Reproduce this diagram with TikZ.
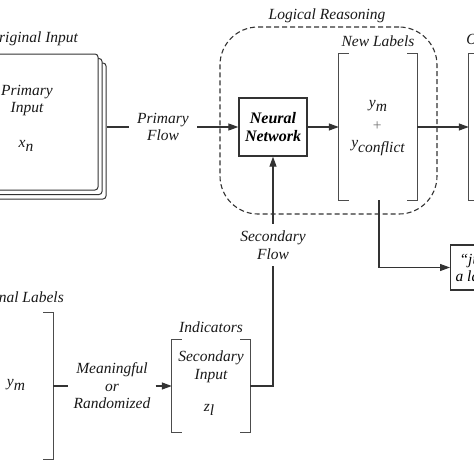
\documentclass[tikz,border=0pt]{standalone}
\usepackage{fontspec}
\setmainfont{Liberation Serif}
\usetikzlibrary{arrows.meta}
\newcommand\mysub[1]{\raisebox{-4.5pt}{#1}}
\begin{document}
\begin{tikzpicture}[x=1pt,y=-1pt,
  font=\fontsize{15.5}{17.5}\selectfont\itshape,
  ln/.style={draw=black!80, line width=1.2pt},
  arr/.style={ln,-{Triangle[length=10pt,width=7pt]}},
  lbl/.style={inner sep=0pt, align=center, text=black!90},
  brk/.style={draw=black!70, line width=1.3pt},
  stk/.style={draw=black!80, fill=white, line width=1pt, rounded corners=3pt,
    minimum width=142pt, minimum height=136pt, inner sep=0pt},
  frame/.style={inner sep=0pt, minimum width=#1},
  nnbox/.style={draw=black!80, line width=1.3pt, minimum width=68pt, minimum height=58pt,
    inner sep=0pt, align=center, font=\fontsize{16}{18}\selectfont\bfseries\itshape},
  gapped/.style={lbl, inner xsep=#1}
]
\useasboundingbox (0,0) rectangle (474,474);
\clip (0,0) rectangle (474,474);

% stacked original input
\node[stk] (in3) at (35,131) {};
\node[stk] (in2) at (31,126.5) {};
\node[stk] (in1) at (27,122) {};
\node[lbl] (oi) at (33,39) {Original Input};
\node[lbl] (pin) at (27,100.5) {Primary\\Input};
\node[lbl] (xn) at (26,146) {x\mysub{n}};

% primary flow
\node[gapped=8pt] (pf) at (163,127) {Primary\\Flow};
\draw[ln] (pf.west -| in3.east) -- (pf.west);

% logical reasoning
\node[draw=black!80, dashed, dash pattern=on 5pt off 3pt, line width=1.1pt, rounded corners=38pt,
  minimum width=217pt, minimum height=187pt, inner sep=0pt] (lr) at (328.5,120.5) {};
\node[lbl] (lrt) at (327,16) {Logical Reasoning};

\node[nnbox] (nn) at (273,127) {Neural\\Network};
\draw[arr] (pf.east) -- (nn.west);

% new labels
\node[frame=78pt, minimum height=146pt] (nl) at (378,127) {};
\draw[brk] ([xshift=10pt]nl.north west) -- (nl.north west) -- (nl.south west) -- ([xshift=10pt]nl.south west);
\draw[brk] ([xshift=-10pt]nl.north east) -- (nl.north east) -- (nl.south east) -- ([xshift=-10pt]nl.south east);
\node[lbl] (nlt) at (378,41) {New Labels};
\node[lbl] (ym1) at (378,106) {y\mysub{m}};
\node[lbl, text=black!55] (plus) at (377,126) {+};
\node[lbl] (yc) at (378,148) {y\mysub{conflict}};
\draw[arr] (nn.east) -- (nl.west);

% output
\node[frame=78pt, minimum height=146pt] (out) at (508,127) {};
\draw[brk] ([xshift=10pt]out.north west) -- (out.north west) -- (out.south west) -- ([xshift=10pt]out.south west);
\node[lbl] (outt) at (488,41) {Output};
\draw[arr] (nl.east) -- (out.west);

% side box
\node[draw=black!80, line width=1.2pt, minimum height=45pt, align=left, anchor=west,
  inner xsep=5pt] (jk) at (450,267.5) {\hspace*{4pt}“junk”\\a label};
\draw[arr] ([xshift=1pt]nl.south) |- (jk.west);

% secondary flow
\node[lbl, inner ysep=7pt] (sf) at (273,245) {Secondary\\Flow};
\draw[arr] (sf.north) -- (nn.south);

% indicators
\node[frame=78pt, minimum height=92pt] (ind) at (211,386) {};
\draw[brk] ([xshift=10pt]ind.north west) -- (ind.north west) -- (ind.south west) -- ([xshift=10pt]ind.south west);
\draw[brk] ([xshift=-10pt]ind.north east) -- (ind.north east) -- (ind.south east) -- ([xshift=-10pt]ind.south east);
\node[lbl] (indt) at (211,327) {Indicators};
\node[lbl] (sin) at (211,367) {Secondary\\Input};
\node[lbl] (zl) at (209,410) {z\mysub{l}};
\draw[ln] (sf.south) |- (ind.east);

% original labels
\node[frame=76pt, minimum height=146pt] (ol) at (15,386) {};
\draw[brk] ([xshift=-10pt]ol.north east) -- (ol.north east) -- (ol.south east) -- ([xshift=-10pt]ol.south east);
\node[lbl] (olt) at (14.5,299) {Original Labels};
\node[lbl] (ym2) at (16,385) {y\mysub{m}};

\node[gapped=5pt] (mr) at (112,386) {Meaningful\\or\\Randomized};
\draw[ln] (ol.east) -- (mr.west);
\draw[arr] (mr.east) -- (ind.west);
\end{tikzpicture}
\end{document}
